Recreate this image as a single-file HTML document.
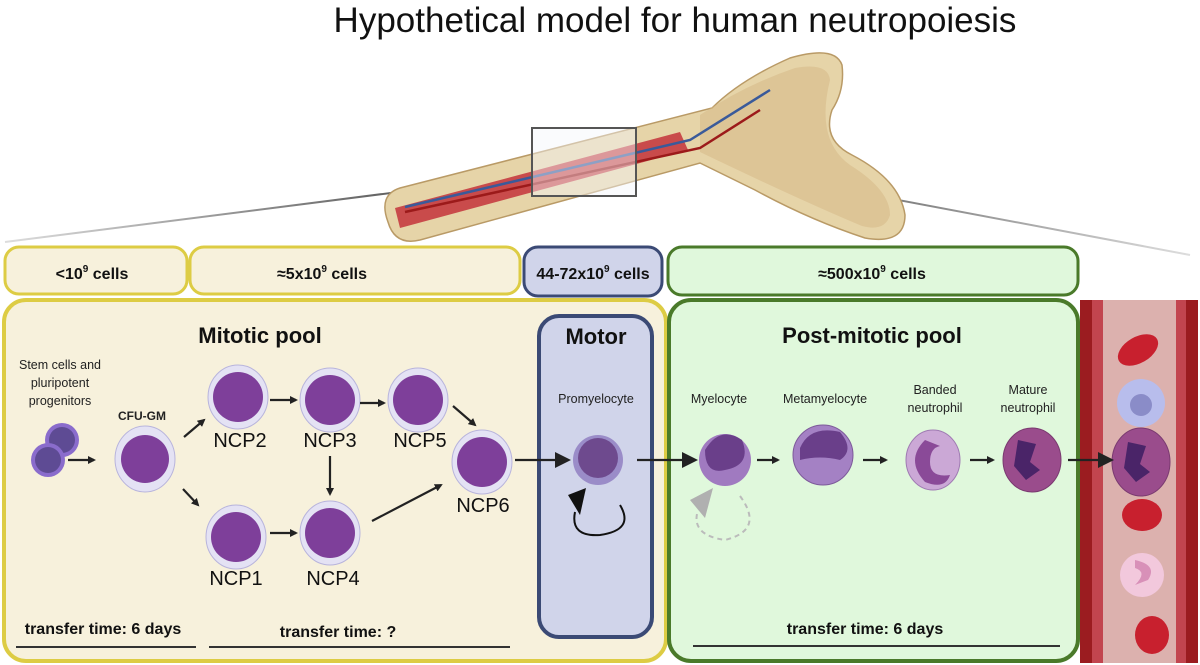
<!DOCTYPE html>
<html><head><meta charset="utf-8"><style>
body{margin:0;background:#fff;}
svg{display:block;font-family:"Liberation Sans",sans-serif;}
</style></head><body>
<svg width="1200" height="665" viewBox="0 0 1200 665" xmlns="http://www.w3.org/2000/svg">
<defs>
<linearGradient id="gl" x1="0" x2="1"><stop offset="0" stop-color="#ddd"/><stop offset="1" stop-color="#333"/></linearGradient>
<linearGradient id="gr" x1="0" x2="1"><stop offset="0" stop-color="#333"/><stop offset="1" stop-color="#ddd"/></linearGradient>
<marker id="ar" markerWidth="8" markerHeight="8" refX="6" refY="4" orient="auto" markerUnits="userSpaceOnUse"><path d="M0,0 L8,4 L0,8 Z" fill="#222"/></marker>
<marker id="arb" markerWidth="16" markerHeight="16" refX="12" refY="8" orient="auto" markerUnits="userSpaceOnUse"><path d="M0,0 L16,8 L0,16 Z" fill="#222"/></marker>
</defs>
<text x="675" y="32" font-size="35" text-anchor="middle" fill="#111">Hypothetical model for human neutropoiesis</text>
<!-- zoom lines -->
<line x1="532" y1="175" x2="5" y2="242" stroke="url(#gl)" stroke-width="2"/>
<line x1="660" y1="155" x2="1190" y2="255" stroke="url(#gr)" stroke-width="2"/>
<!-- bone -->
<path d="M388,222 Q378,195 400,188 L712,108 Q740,80 790,58 Q835,45 842,65 Q845,90 832,110 Q822,140 852,155 Q900,180 905,215 Q905,245 865,238 Q810,220 755,190 L700,163 L420,240 Q395,246 388,222 Z" fill="#e6d4a8" stroke="#b99a66" stroke-width="1.5"/>
<path d="M700,115 Q745,85 795,68 Q828,62 830,80 Q815,140 850,165 Q890,190 890,215 Q885,232 862,226 Q800,200 700,152 Z" fill="#d6b887" opacity="0.55"/>
<path d="M395,208 L680,132 L688,150 L400,228 Z" fill="#c94b4b"/>
<path d="M405,212 L700,148 L760,110" stroke="#9c1a1a" stroke-width="2.5" fill="none"/>
<path d="M405,207 L690,140 L770,90" stroke="#3a5a9a" stroke-width="2.5" fill="none"/>
<rect x="532" y="128" width="104" height="68" fill="#f4f6fa" fill-opacity="0.45" stroke="#555" stroke-width="2"/>
<!-- header boxes -->
<rect x="5" y="247" width="182" height="47" rx="14" fill="#f7f1dc" stroke="#ddcc44" stroke-width="3"/>
<rect x="190" y="247" width="330" height="47" rx="14" fill="#f7f1dc" stroke="#ddcc44" stroke-width="3"/>
<rect x="524" y="247" width="138" height="49" rx="14" fill="#d0d4ea" stroke="#3b4a75" stroke-width="3"/>
<rect x="668" y="247" width="410" height="48" rx="14" fill="#e0f8dc" stroke="#4a7a2a" stroke-width="3"/>
<g font-weight="bold" font-size="16" fill="#111" text-anchor="middle">
<text x="92" y="279">&lt;10<tspan font-size="10" dy="-7">9</tspan><tspan dy="7"> cells</tspan></text>
<text x="322" y="279">≈5x10<tspan font-size="10" dy="-7">9</tspan><tspan dy="7"> cells</tspan></text>
<text x="593" y="279">44-72x10<tspan font-size="10" dy="-7">9</tspan><tspan dy="7"> cells</tspan></text>
<text x="872" y="279">≈500x10<tspan font-size="10" dy="-7">9</tspan><tspan dy="7"> cells</tspan></text>
</g>
<!-- big boxes -->
<rect x="4" y="300" width="662" height="361" rx="22" fill="#f7f1dc" stroke="#ddcc44" stroke-width="4"/>
<rect x="539" y="316" width="113" height="321" rx="20" fill="#d0d4ea" stroke="#3b4a75" stroke-width="4"/>
<rect x="669" y="300" width="409" height="361" rx="22" fill="#e0f8dc" stroke="#4a7a2a" stroke-width="4"/>
<!-- blood vessel -->
<rect x="1080" y="300" width="118" height="363" fill="#9b1c20"/>
<rect x="1092" y="300" width="94" height="363" fill="#c2454f"/>
<rect x="1103" y="300" width="73" height="363" fill="#dcb1ae"/>
<g font-weight="bold" fill="#111" text-anchor="middle">
<text x="260" y="343" font-size="22">Mitotic pool</text>
<text x="596" y="344" font-size="22">Motor</text>
<text x="872" y="343" font-size="22">Post-mitotic pool</text>
<text x="103" y="634" font-size="16">transfer time: 6 days</text>
<text x="338" y="637" font-size="16">transfer time: ?</text>
<text x="865" y="634" font-size="16">transfer time: 6 days</text>
</g>
<line x1="16" y1="647" x2="196" y2="647" stroke="#333" stroke-width="2"/>
<line x1="209" y1="647" x2="510" y2="647" stroke="#333" stroke-width="2"/>
<line x1="693" y1="646" x2="1060" y2="646" stroke="#333" stroke-width="2"/>
<g font-size="12.5" fill="#222" text-anchor="middle">
<text x="60" y="369">Stem cells and</text><text x="60" y="387">pluripotent</text><text x="60" y="405">progenitors</text>
<text x="596" y="403">Promyelocyte</text>
<text x="719" y="403">Myelocyte</text>
<text x="825" y="403">Metamyelocyte</text>
<text x="935" y="394">Banded</text><text x="935" y="412">neutrophil</text>
<text x="1028" y="394">Mature</text><text x="1028" y="412">neutrophil</text>
<text x="142" y="420" font-weight="bold" font-size="12">CFU-GM</text>
</g>
<g font-size="20" fill="#111" text-anchor="middle">
<text x="240" y="447">NCP2</text><text x="330" y="447">NCP3</text><text x="420" y="447">NCP5</text>
<text x="483" y="512">NCP6</text><text x="236" y="585">NCP1</text><text x="333" y="585">NCP4</text>
</g>
<!-- stem cells -->
<circle cx="62" cy="440" r="17" fill="#8a6ccc"/><circle cx="62" cy="440" r="13" fill="#5e4b94"/>
<circle cx="48" cy="460" r="17" fill="#8a6ccc"/><circle cx="48" cy="460" r="13" fill="#5e4b94"/>
<!-- progenitor cells -->
<g>
<g transform="translate(145,459)"><ellipse rx="30" ry="33" fill="#e4e2f4" stroke="#b8b4dc"/><circle r="24" fill="#7e3f9a"/></g>
<g transform="translate(238,397)"><ellipse rx="30" ry="32" fill="#e4e2f4" stroke="#b8b4dc"/><circle r="25" fill="#7e3f9a"/></g>
<g transform="translate(330,400)"><ellipse rx="30" ry="32" fill="#e4e2f4" stroke="#b8b4dc"/><circle r="25" fill="#7e3f9a"/></g>
<g transform="translate(418,400)"><ellipse rx="30" ry="32" fill="#e4e2f4" stroke="#b8b4dc"/><circle r="25" fill="#7e3f9a"/></g>
<g transform="translate(482,462)"><ellipse rx="30" ry="32" fill="#e4e2f4" stroke="#b8b4dc"/><circle r="25" fill="#7e3f9a"/></g>
<g transform="translate(236,537)"><ellipse rx="30" ry="32" fill="#e4e2f4" stroke="#b8b4dc"/><circle r="25" fill="#7e3f9a"/></g>
<g transform="translate(330,533)"><ellipse rx="30" ry="32" fill="#e4e2f4" stroke="#b8b4dc"/><circle r="25" fill="#7e3f9a"/></g>
</g>
<!-- promyelocyte etc -->
<circle cx="598" cy="460" r="25" fill="#9a8cc8"/><circle cx="598" cy="458" r="20" fill="#6e4a8e"/>
<circle cx="725" cy="460" r="26" fill="#a07ac0"/><path d="M705,450 Q720,425 742,440 Q752,465 725,470 Q705,475 705,450Z" fill="#6a3f8a"/>
<circle cx="823" cy="455" r="30" fill="#a481c4" stroke="#7d5a9a"/><path d="M800,448 Q810,425 840,432 Q855,450 840,460 Q820,455 800,460Z" fill="#6a3f8a"/>
<ellipse cx="933" cy="460" rx="27" ry="30" fill="#cba8d6" stroke="#9f7ab2"/><path d="M925,440 Q905,460 925,482 Q945,490 950,475 Q930,478 930,462 Q930,448 940,446Z" fill="#8a4a98"/>
<ellipse cx="1032" cy="460" rx="29" ry="32" fill="#9a4c8c" stroke="#7a3a70"/><path d="M1018,440 L1036,444 L1030,462 L1040,470 L1026,480 L1014,466Z" fill="#4a2468"/>
<ellipse cx="1141" cy="462" rx="29" ry="34" fill="#9a4c8c" stroke="#7a3a70"/><path d="M1128,442 L1146,446 L1140,464 L1150,472 L1136,482 L1124,468Z" fill="#4a2468"/>
<!-- vessel cells -->
<ellipse cx="1138" cy="350" rx="22" ry="13" transform="rotate(-30 1138 350)" fill="#c8202e"/>
<circle cx="1141" cy="403" r="24" fill="#b8bdec"/><circle cx="1141" cy="405" r="11" fill="#8a8cc8"/>
<ellipse cx="1142" cy="515" rx="20" ry="16" fill="#c8202e"/>
<circle cx="1142" cy="575" r="22" fill="#f2c8dc"/><path d="M1135,560 Q1158,565 1148,580 L1135,585 Q1148,572 1135,568Z" fill="#d890b8"/>
<ellipse cx="1152" cy="635" rx="17" ry="19" fill="#c8202e"/>
<!-- arrows -->
<g stroke="#222" stroke-width="2.2" fill="none" marker-end="url(#ar)">
<line x1="68" y1="460" x2="94" y2="460"/>
<line x1="184" y1="437" x2="204" y2="420"/>
<line x1="183" y1="489" x2="198" y2="505"/>
<line x1="270" y1="400" x2="296" y2="400"/>
<line x1="360" y1="403" x2="384" y2="403"/>
<line x1="453" y1="406" x2="475" y2="425"/>
<line x1="330" y1="456" x2="330" y2="494"/>
<line x1="270" y1="533" x2="296" y2="533"/>
<line x1="372" y1="521" x2="441" y2="485"/>
<line x1="757" y1="460" x2="778" y2="460"/>
<line x1="863" y1="460" x2="886" y2="460"/>
<line x1="970" y1="460" x2="993" y2="460"/>
</g>
<g stroke="#222" stroke-width="2.2" fill="none" marker-end="url(#arb)">
<line x1="515" y1="460" x2="567" y2="460"/>
<line x1="637" y1="460" x2="694" y2="460"/>
<line x1="1068" y1="460" x2="1110" y2="460"/>
</g>
<path d="M620,505 Q635,530 600,535 Q570,537 575,512" stroke="#111" stroke-width="2" fill="none"/>
<path d="M568,495 L586,488 L580,515Z" fill="#111"/>
<path d="M740,496 Q765,530 725,540 Q690,535 698,510" stroke="#bbb" stroke-width="2" stroke-dasharray="5,4" fill="none"/>
<path d="M690,500 L713,488 L705,518Z" fill="#b0b0b0"/>
</svg>
</body></html>
